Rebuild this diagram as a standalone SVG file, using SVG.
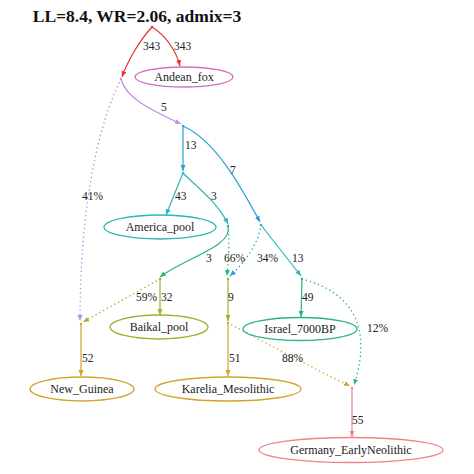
<svg xmlns="http://www.w3.org/2000/svg" width="474" height="474" viewBox="0 0 474 474" font-family="'Liberation Serif','Times New Roman',serif">
<style>
text{font-family:"Liberation Serif","Times New Roman",serif;fill:#222}
.t{font-size:17.5px;font-weight:bold;fill:#111}
.n{font-size:12px;text-anchor:middle}
.l{font-size:11.5px}
.e{fill:none;stroke-width:1.2}
.d{stroke-dasharray:0.1 4.2;stroke-linecap:round;stroke-width:1.5}
ellipse{fill:none;stroke-width:1.3}
</style>
<defs>
<marker id="mred" markerWidth="8" markerHeight="8" refX="6" refY="3.5" orient="auto" markerUnits="userSpaceOnUse"><path d="M0,1 L6,3.5 L0,6z" fill="#e8302c"/></marker>
<marker id="mpur" markerWidth="8" markerHeight="8" refX="6" refY="3.5" orient="auto" markerUnits="userSpaceOnUse"><path d="M0,1 L6,3.5 L0,6z" fill="#c08ee6"/></marker>
<marker id="mblu" markerWidth="8" markerHeight="8" refX="6" refY="3.5" orient="auto" markerUnits="userSpaceOnUse"><path d="M0,1 L6,3.5 L0,6z" fill="#2aa0d8"/></marker>
<marker id="mtea" markerWidth="8" markerHeight="8" refX="6" refY="3.5" orient="auto" markerUnits="userSpaceOnUse"><path d="M0,1 L6,3.5 L0,6z" fill="#2cb6b8"/></marker>
<marker id="mgrn" markerWidth="8" markerHeight="8" refX="6" refY="3.5" orient="auto" markerUnits="userSpaceOnUse"><path d="M0,1 L6,3.5 L0,6z" fill="#2ab486"/></marker>
<marker id="moli" markerWidth="8" markerHeight="8" refX="6" refY="3.5" orient="auto" markerUnits="userSpaceOnUse"><path d="M0,1 L6,3.5 L0,6z" fill="#9cb22c"/></marker>
<marker id="mgld" markerWidth="8" markerHeight="8" refX="6" refY="3.5" orient="auto" markerUnits="userSpaceOnUse"><path d="M0,1 L6,3.5 L0,6z" fill="#d4a42a"/></marker>
<marker id="msal" markerWidth="8" markerHeight="8" refX="6" refY="3.5" orient="auto" markerUnits="userSpaceOnUse"><path d="M0,1 L6,3.5 L0,6z" fill="#f08484"/></marker>
</defs>
<text class="t" x="137" y="22" text-anchor="middle">LL=8.4, WR=2.06, admix=3</text>
<g id="edges">
<path class="e" stroke="#e8302c" marker-end="url(#mred)" d="M152,27 C140,40 128,60 122,77"/>
<path class="e" stroke="#e8302c" marker-end="url(#mred)" d="M152,27 C165,35 176,50 180,66"/>
<path class="e" stroke="#c08ee6" marker-end="url(#mpur)" d="M121,79 C126,100 158,113 181,124"/>
<path class="e d" stroke="#c08ee6" marker-end="url(#mpur)" d="M121,79 C100,120 80,200 80,321"/>
<path class="e" stroke="#2aa0d8" marker-end="url(#mblu)" d="M183,126 L183,171"/>
<path class="e" stroke="#2aa0d8" marker-end="url(#mblu)" d="M183,126 C215,140 240,185 260,222"/>
<path class="e" stroke="#2cb6b8" marker-end="url(#mtea)" d="M183,173 L166,215"/>
<path class="e" stroke="#2cb6b8" marker-end="url(#mtea)" d="M183,173 C200,190 218,203 228,224"/>
<path class="e" stroke="#2ab486" marker-end="url(#mgrn)" d="M228,226 C234,246 185,258 160,277"/>
<path class="e d" stroke="#2ab486" marker-end="url(#mgrn)" d="M228,226 C230,245 228,262 227,276"/>
<path class="e d" stroke="#2aa0d8" marker-end="url(#mblu)" d="M261,225 C258,245 245,262 230,276"/>
<path class="e" stroke="#2cb6b8" marker-end="url(#mtea)" d="M261,225 L301,276"/>
<path class="e" stroke="#9cb22c" marker-end="url(#moli)" d="M160,279 L160,315"/>
<path class="e d" stroke="#9cb22c" marker-end="url(#moli)" d="M160,279 L83,322"/>
<path class="e" stroke="#d4a42a" marker-end="url(#mgld)" d="M81,324 L81,376"/>
<path class="e" stroke="#9cb22c" marker-end="url(#moli)" d="M228,279 L228,321"/>
<path class="e" stroke="#d4a42a" marker-end="url(#mgld)" d="M228,323 L228,376"/>
<path class="e d" stroke="#d4a42a" marker-end="url(#mgld)" d="M228,323 C270,345 320,372 350,386"/>
<path class="e" stroke="#2ab486" marker-end="url(#mgrn)" d="M302,279 L301,317"/>
<path class="e d" stroke="#2ab486" marker-end="url(#mgrn)" d="M302,279 C345,290 375,320 354,385"/>
<path class="e" stroke="#f08484" marker-end="url(#msal)" d="M352,388 L352,437"/>
<g class="l">
<text x="143" y="50">343</text>
<text x="174" y="50">343</text>
<text x="161" y="111">5</text>
<text x="82" y="200">41%</text>
<text x="185" y="149">13</text>
<text x="230" y="174">7</text>
<text x="175" y="200">43</text>
<text x="211" y="200">3</text>
<text x="206" y="262">3</text>
<text x="224" y="262">66%</text>
<text x="257" y="262">34%</text>
<text x="292" y="262">13</text>
<text x="136" y="301">59%</text>
<text x="161" y="301">32</text>
<text x="228" y="301">9</text>
<text x="302" y="301">49</text>
<text x="367" y="332">12%</text>
<text x="82" y="362">52</text>
<text x="229" y="362">51</text>
<text x="282" y="362">88%</text>
<text x="352" y="424">55</text>
</g>
</g>
<g id="pt_root"><circle cx="152" cy="27" r="1.2" fill="#e8302c"/></g>
<g id="pt_A"><circle cx="121" cy="79" r="1.2" fill="#c08ee6"/></g>
<g id="pt_B"><circle cx="183" cy="126" r="1.2" fill="#2aa0d8"/></g>
<g id="pt_C"><circle cx="183" cy="173" r="1.2" fill="#2cb6b8"/></g>
<g id="pt_D"><circle cx="228" cy="226" r="1.2" fill="#2ab486"/></g>
<g id="pt_E"><circle cx="261" cy="225" r="1.2" fill="#2cb6b8"/></g>
<g id="pt_F"><circle cx="160" cy="279" r="1.2" fill="#9cb22c"/></g>
<g id="pt_G"><circle cx="228" cy="279" r="1.2" fill="#9cb22c"/></g>
<g id="pt_H"><circle cx="302" cy="279" r="1.2" fill="#2ab486"/></g>
<g id="pt_J"><circle cx="81" cy="324" r="1.2" fill="#d4a42a"/></g>
<g id="pt_K"><circle cx="228" cy="323" r="1.2" fill="#d4a42a"/></g>
<g id="pt_I"><circle cx="352" cy="388" r="1.2" fill="#f08484"/></g>
<g id="Andean_fox"><ellipse cx="184" cy="77" rx="49" ry="10" stroke="#d070c0"/><text class="n" x="184" y="81">Andean_fox</text></g>
<g id="America_pool"><ellipse cx="160" cy="227" rx="56" ry="12" stroke="#2cb6b8"/><text class="n" x="160" y="231">America_pool</text></g>
<g id="Baikal_pool"><ellipse cx="159" cy="327" rx="49" ry="12" stroke="#9cb22c"/><text class="n" x="159" y="331">Baikal_pool</text></g>
<g id="Israel_7000BP"><ellipse cx="300" cy="329" rx="57" ry="11.5" stroke="#2ab486"/><text class="n" x="300" y="333">Israel_7000BP</text></g>
<g id="New_Guinea"><ellipse cx="82" cy="389" rx="52" ry="12" stroke="#d4a42a"/><text class="n" x="82" y="393">New_Guinea</text></g>
<g id="Karelia_Mesolithic"><ellipse cx="228" cy="389" rx="73" ry="12" stroke="#d4a42a"/><text class="n" x="228" y="393">Karelia_Mesolithic</text></g>
<g id="Germany_EarlyNeolithic"><ellipse cx="351" cy="450" rx="92" ry="12.5" stroke="#f08484"/><text class="n" x="351" y="454">Germany_EarlyNeolithic</text></g>
</svg>
